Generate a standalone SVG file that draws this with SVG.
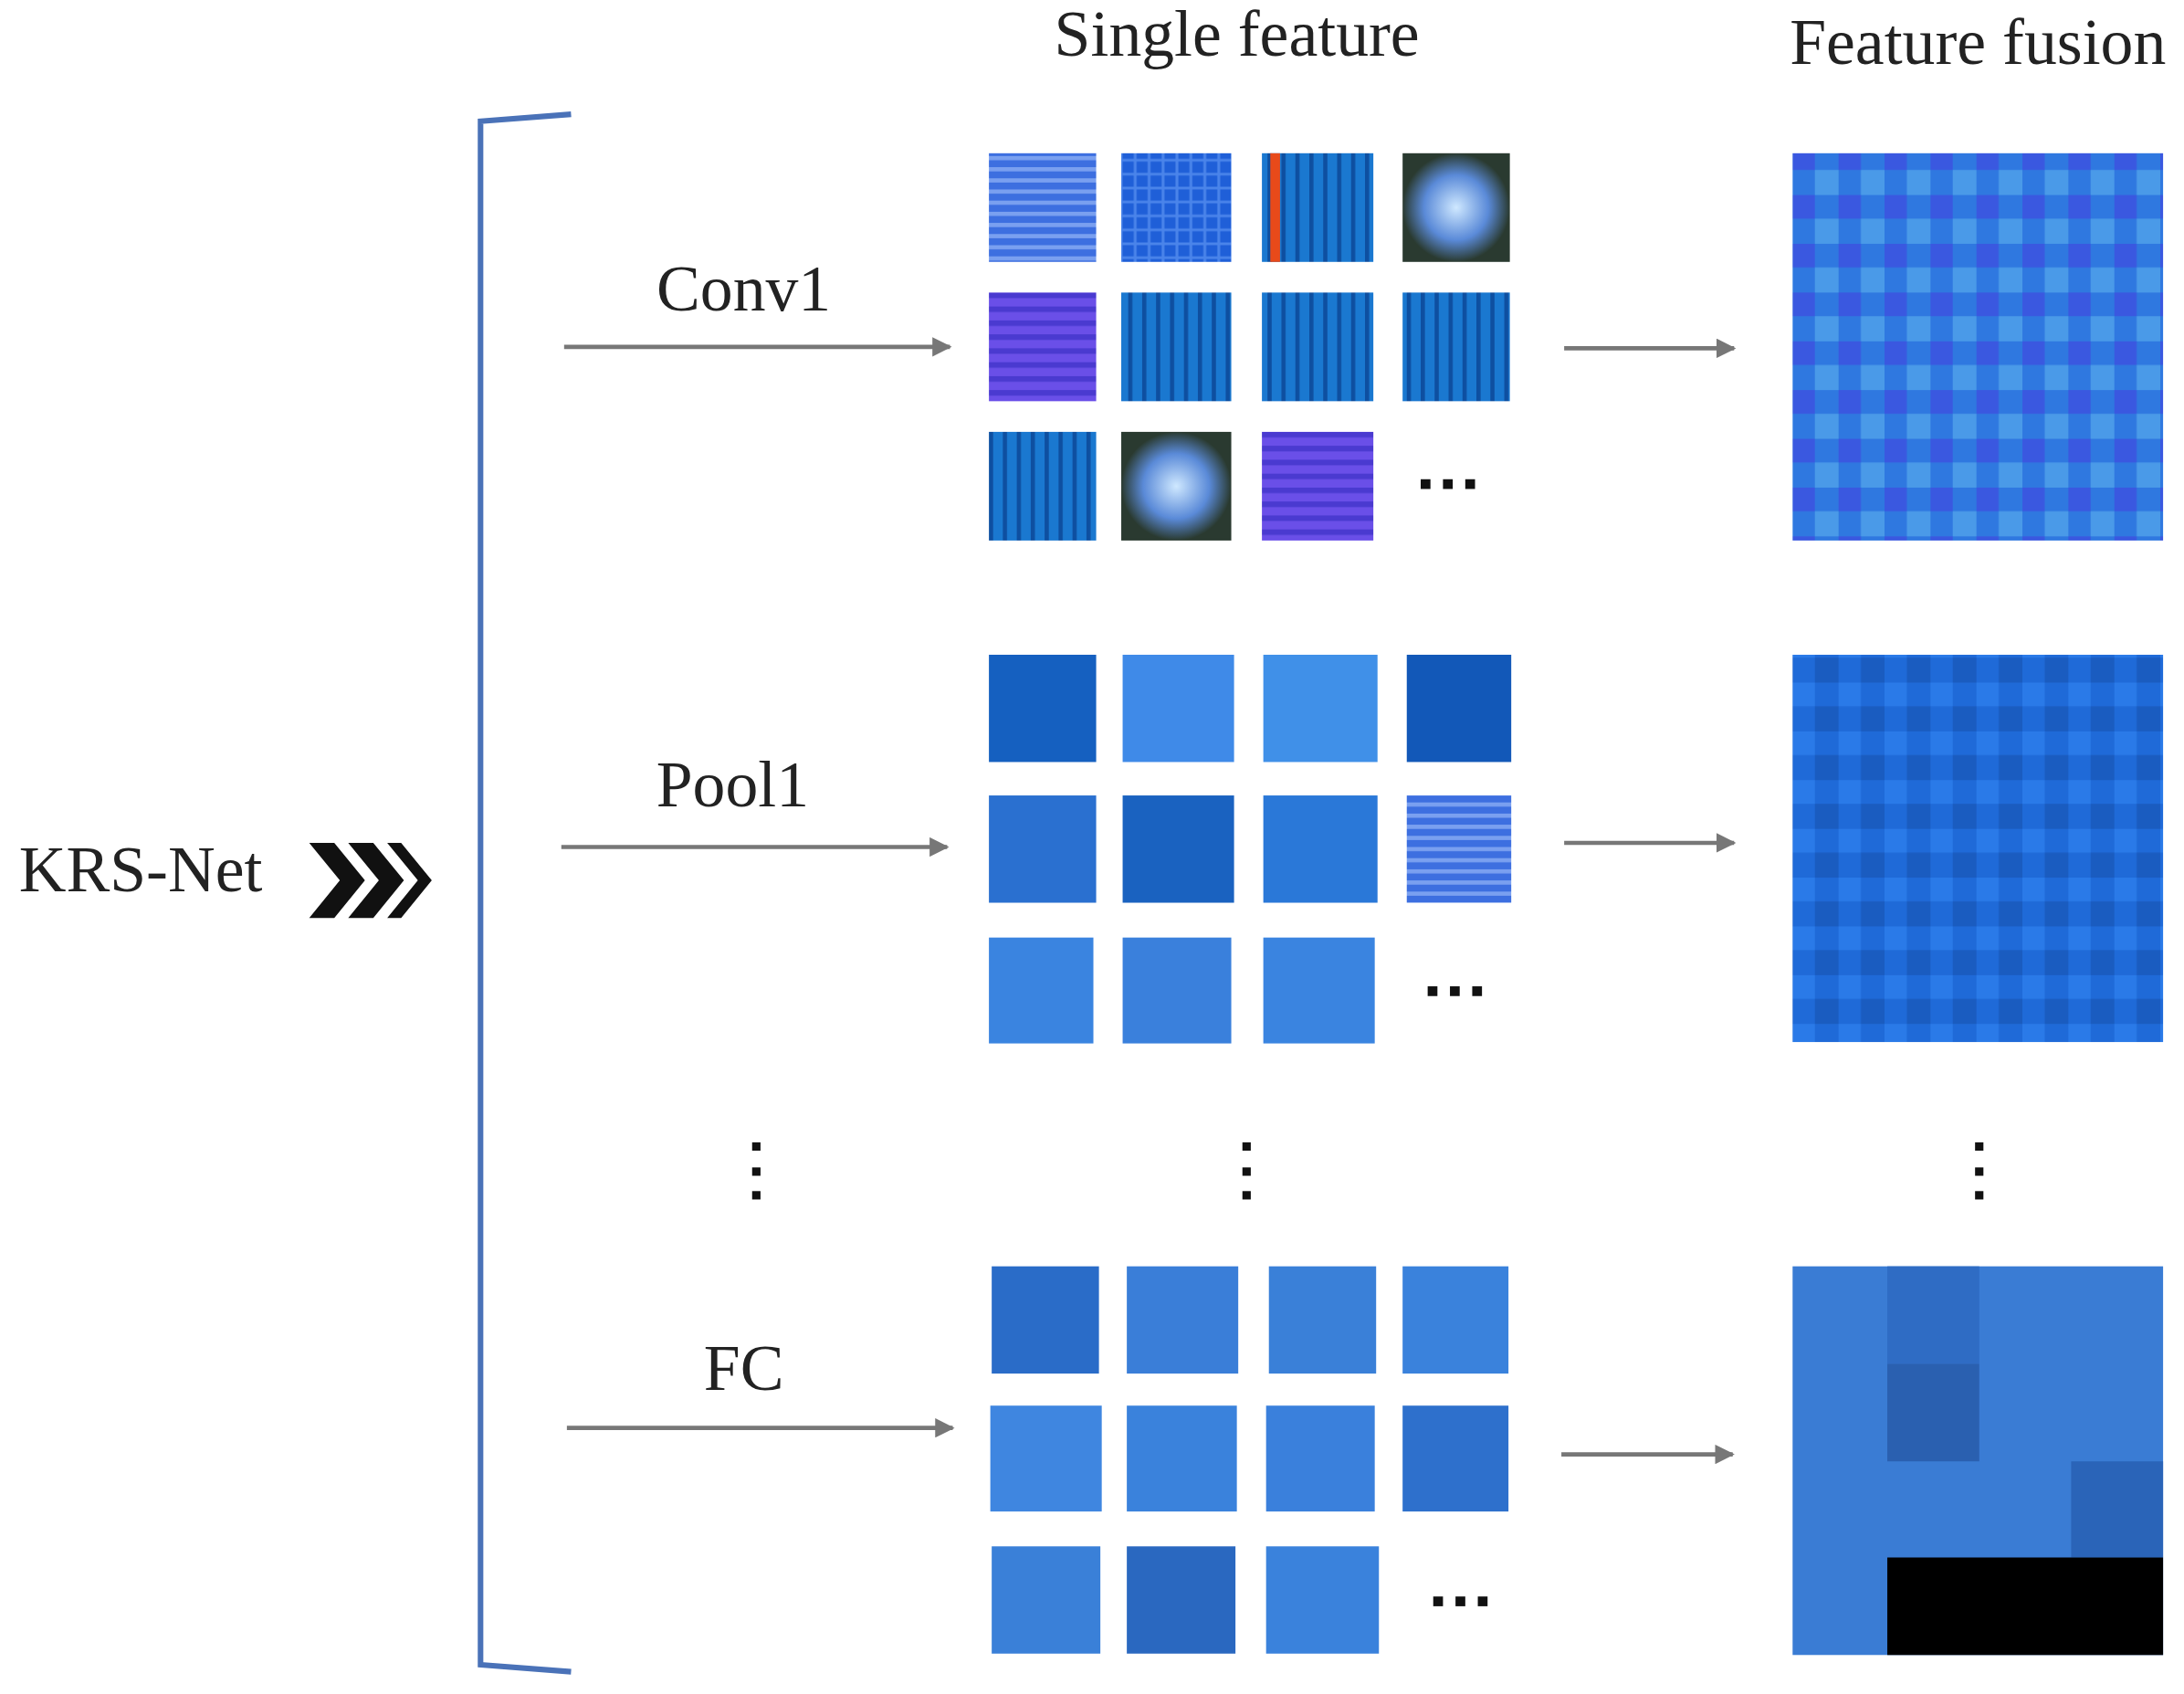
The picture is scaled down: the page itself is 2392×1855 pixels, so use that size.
<svg xmlns="http://www.w3.org/2000/svg" width="2392" height="1855" viewBox="0 0 2392 1855">
<style>
.t{font-family:"Liberation Serif",serif;fill:#222;}
.a{stroke:#777;stroke-width:3;fill:none;marker-end:url(#ah);}
.d{fill:#111;}
</style>
<defs>
<marker id="ah" viewBox="0 0 10 10" refX="9" refY="5" markerWidth="16" markerHeight="14" orient="auto" markerUnits="userSpaceOnUse"><path d="M0,0L10,5L0,10z" fill="#777"/></marker>
<pattern id="hs" width="8" height="8" patternUnits="userSpaceOnUse"><rect width="8" height="8" fill="#3d6fe0"/><rect width="8" height="3" fill="#7aa0f0"/></pattern>
<pattern id="vs" width="10" height="10" patternUnits="userSpaceOnUse"><rect width="10" height="10" fill="#1a78d0"/><rect width="3" height="10" fill="#0e4fa0"/></pattern>
<pattern id="gr" width="10" height="10" patternUnits="userSpaceOnUse"><rect width="10" height="10" fill="#1f5fd8"/><path d="M0,5H10M5,0V10" stroke="#4a84ea" stroke-width="2"/></pattern>
<pattern id="pu" width="10" height="10" patternUnits="userSpaceOnUse"><rect width="10" height="10" fill="#6a4fe8"/><rect width="10" height="4" fill="#4a3ad0"/></pattern>
<radialGradient id="gl"><stop offset="0" stop-color="#cfe8ff"/><stop offset="0.6" stop-color="#5a8ad8"/><stop offset="1" stop-color="#2a3a30"/></radialGradient>
<pattern id="mos" width="33" height="35" patternUnits="userSpaceOnUse"><rect width="33" height="35" fill="#2f78e0"/><rect width="16" height="17" fill="#3a58e0"/><rect x="16" y="17" width="17" height="18" fill="#4a9ae8"/></pattern>
<pattern id="mos2" width="33" height="35" patternUnits="userSpaceOnUse"><rect width="33" height="35" fill="#1f6ad8"/><rect width="16" height="17" fill="#2a7ae8"/><rect x="16" y="17" width="17" height="18" fill="#1a5cc0"/></pattern>
</defs>
<g transform="scale(1.5255)">
<g id="bracket"><path d="M410,82L345,87L345,1195L410,1200" stroke="#4a72b8" stroke-width="4" fill="none"/></g>
<g id="titles">
<text class="t" x="888" y="40" font-size="47" text-anchor="middle">Single feature</text>
<text class="t" x="1420" y="46" font-size="47" text-anchor="middle">Feature fusion</text>
</g>
<g id="krs">
<text class="t" x="101" y="640" font-size="47" text-anchor="middle">KRS-Net</text>
<path d="M222,605h18l22,27l-22,27h-18l22,-27z M250,605h18l22,27l-22,27h-18l22,-27z M278,605h10l22,27l-22,27h-10l22,-27z" fill="#111"/>
</g>
<g id="labels">
<text class="t" x="534" y="223" font-size="47" text-anchor="middle">Conv1</text>
<text class="t" x="526" y="579" font-size="47" text-anchor="middle">Pool1</text>
<text class="t" x="534" y="998" font-size="47" text-anchor="middle">FC</text>
</g>
<g id="connectors">
<line class="a" x1="405" y1="249" x2="682" y2="249"/>
<line class="a" x1="403" y1="608" x2="680" y2="608"/>
<line class="a" x1="407" y1="1025" x2="684" y2="1025"/>
<line class="a" x1="1123" y1="250" x2="1245" y2="250"/>
<line class="a" x1="1123" y1="605" x2="1245" y2="605"/>
<line class="a" x1="1121" y1="1044" x2="1244" y2="1044"/>
</g>
<g id="conv1">
<rect x="710" y="110" width="77" height="78" fill="url(#hs)"/>
<rect x="805" y="110" width="79" height="78" fill="url(#gr)"/>
<rect x="906" y="110" width="80" height="78" fill="url(#vs)"/><rect x="912" y="110" width="7" height="78" fill="#e84a1a"/>
<rect x="1007" y="110" width="77" height="78" fill="url(#gl)"/>
<rect x="710" y="210" width="77" height="78" fill="url(#pu)"/>
<rect x="805" y="210" width="79" height="78" fill="url(#vs)"/>
<rect x="906" y="210" width="80" height="78" fill="url(#vs)"/>
<rect x="1007" y="210" width="77" height="78" fill="url(#vs)"/>
<rect x="710" y="310" width="77" height="78" fill="url(#vs)"/>
<rect x="805" y="310" width="79" height="78" fill="url(#gl)"/>
<rect x="906" y="310" width="80" height="78" fill="url(#pu)"/>
<rect class="d" x="1020" y="344" width="7" height="7"/><rect class="d" x="1036" y="344" width="7" height="7"/><rect class="d" x="1052" y="344" width="7" height="7"/>
<rect x="1287" y="110" width="266" height="278" fill="url(#mos)"/>
</g>
<g id="pool1">
<rect x="710" y="470" width="77" height="77" fill="#1560c0"/>
<rect x="806" y="470" width="80" height="77" fill="#3f8ae8"/>
<rect x="907" y="470" width="82" height="77" fill="#4090e8"/>
<rect x="1010" y="470" width="75" height="77" fill="#1258b8"/>
<rect x="710" y="571" width="77" height="77" fill="#2a70d0"/>
<rect x="806" y="571" width="80" height="77" fill="#1a62c0"/>
<rect x="907" y="571" width="82" height="77" fill="#2a78d8"/>
<rect x="1010" y="571" width="75" height="77" fill="url(#hs)"/>
<rect x="710" y="673" width="75" height="76" fill="#3a84e0"/>
<rect x="806" y="673" width="78" height="76" fill="#3a80dc"/>
<rect x="907" y="673" width="80" height="76" fill="#3a84e0"/>
<rect class="d" x="1025" y="708" width="7" height="7"/><rect class="d" x="1041" y="708" width="7" height="7"/><rect class="d" x="1057" y="708" width="7" height="7"/>
<rect x="1287" y="470" width="266" height="278" fill="url(#mos2)"/>
</g>
<g id="vdots">
<rect class="d" x="540" y="820" width="6" height="6"/><rect class="d" x="540" y="838" width="6" height="6"/><rect class="d" x="540" y="855" width="6" height="6"/>
<rect class="d" x="892" y="820" width="6" height="6"/><rect class="d" x="892" y="838" width="6" height="6"/><rect class="d" x="892" y="855" width="6" height="6"/>
<rect class="d" x="1418" y="820" width="6" height="6"/><rect class="d" x="1418" y="838" width="6" height="6"/><rect class="d" x="1418" y="855" width="6" height="6"/>
</g>
<g id="fc">
<rect x="712" y="909" width="77" height="77" fill="#2a6cc8"/>
<rect x="809" y="909" width="80" height="77" fill="#3a7ed8"/>
<rect x="911" y="909" width="77" height="77" fill="#3a80d8"/>
<rect x="1007" y="909" width="76" height="77" fill="#3a82dc"/>
<rect x="711" y="1009" width="80" height="76" fill="#3f86e0"/>
<rect x="809" y="1009" width="79" height="76" fill="#3a82dc"/>
<rect x="909" y="1009" width="78" height="76" fill="#3a80dc"/>
<rect x="1007" y="1009" width="76" height="76" fill="#2e70cc"/>
<rect x="712" y="1110" width="78" height="77" fill="#3a80d8"/>
<rect x="809" y="1110" width="78" height="77" fill="#2a68c0"/>
<rect x="909" y="1110" width="81" height="77" fill="#3a82dc"/>
<rect class="d" x="1029" y="1146" width="7" height="7"/><rect class="d" x="1045" y="1146" width="7" height="7"/><rect class="d" x="1061" y="1146" width="7" height="7"/>
<rect x="1287" y="909" width="266" height="279" fill="#3a7cd4"/>
<rect x="1355" y="909" width="66" height="70" fill="#2f6cc4"/>
<rect x="1355" y="979" width="66" height="70" fill="#2a60b0"/>
<rect x="1487" y="1049" width="66" height="69" fill="#2a64b8"/>
<rect x="1355" y="1118" width="198" height="70" fill="#000"/>
</g>
</g>
</svg>
